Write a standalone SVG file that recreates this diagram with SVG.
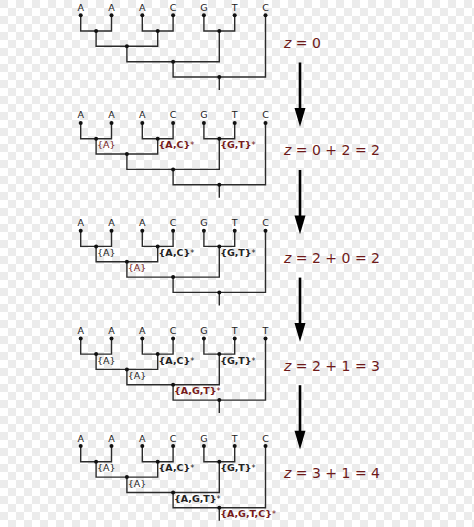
<svg xmlns="http://www.w3.org/2000/svg" xmlns:xlink="http://www.w3.org/1999/xlink" width="474" height="527" viewBox="0 0 474 527">
<defs>
<style>
.edge{fill:none;stroke:#2b2b2b;stroke-width:1.4;stroke-linejoin:miter}
.dot{fill:#111}
.leaf{font-family:"DejaVu Sans","Liberation Sans",sans-serif;font-size:9.5px;fill:#222;text-anchor:middle}
.lab{font-family:"DejaVu Sans","Liberation Sans",sans-serif;font-size:9.5px;fill:#222}
.b{font-weight:bold}
.new{fill:#761a1a}
.star{font-weight:normal;font-size:8px}
.z{font-family:"DejaVu Sans","Liberation Sans",sans-serif;font-size:14px;fill:#6e1a1a}
.arrow{fill:none;stroke:#000;stroke-width:2.6}
</style>
<pattern id="checker" width="16" height="16" patternUnits="userSpaceOnUse">
<rect width="16" height="16" fill="#ffffff"/>
<rect width="8" height="8" fill="#ececec"/>
<rect x="8" y="8" width="8" height="8" fill="#ececec"/>
</pattern>
<marker id="head" markerUnits="userSpaceOnUse" markerWidth="12" markerHeight="20" refX="6" refY="0" orient="auto-start-reverse" viewBox="0 -1 12 21">
<polygon points="0,0 12,0 6,19" fill="#000" transform="rotate(0)"/>
</marker>
<g id="edges">
<path class="edge" d="M80.7 15.3V31H111.5V15.3"/>
<path class="edge" d="M142.3 15.3V31H173.1V15.3"/>
<path class="edge" d="M203.9 15.3V31H234.7V15.3"/>
<path class="edge" d="M96.1 31V46.3H157.7V31"/>
<path class="edge" d="M126.9 46.3V61.7H219.3V31"/>
<path class="edge" d="M173.1 61.7V77H265.5V15.3"/>
<path class="edge" d="M219.3 77V90"/>
</g>
</defs>
<rect width="474" height="527" fill="url(#checker)"/>

<g id="connectors">
<use xlink:href="#edges" href="#edges"/>
<use xlink:href="#edges" href="#edges" y="107.7"/>
<use xlink:href="#edges" href="#edges" y="215.4"/>
<use xlink:href="#edges" href="#edges" y="323.1"/>
<use xlink:href="#edges" href="#edges" y="430.8"/>
<path class="arrow" d="M300 62.5V109"/><polygon points="294.5,108 305.5,108 300,126.8" fill="#000"/>
<path class="arrow" d="M300 170V216.5"/><polygon points="294.5,215.5 305.5,215.5 300,234.2" fill="#000"/>
<path class="arrow" d="M300 277.6V324.1"/><polygon points="294.5,323.1 305.5,323.1 300,341.8" fill="#000"/>
<path class="arrow" d="M300 385.2V431.7"/><polygon points="294.5,430.7 305.5,430.7 300,449.4" fill="#000"/>
</g>

<!-- Panel 1 -->
<g id="panel1">
<g id="p1-leaf1"><circle class="dot" cx="80.7" cy="15.3" r="2"/><text class="leaf" x="80.7" y="10.8">A</text></g>
<g id="p1-leaf2"><circle class="dot" cx="111.5" cy="15.3" r="2"/><text class="leaf" x="111.5" y="10.8">A</text></g>
<g id="p1-leaf3"><circle class="dot" cx="142.3" cy="15.3" r="2"/><text class="leaf" x="142.3" y="10.8">A</text></g>
<g id="p1-leaf4"><circle class="dot" cx="173.1" cy="15.3" r="2"/><text class="leaf" x="173.1" y="10.8">C</text></g>
<g id="p1-leaf5"><circle class="dot" cx="203.9" cy="15.3" r="2"/><text class="leaf" x="203.9" y="10.8">G</text></g>
<g id="p1-leaf6"><circle class="dot" cx="234.7" cy="15.3" r="2"/><text class="leaf" x="234.7" y="10.8">T</text></g>
<g id="p1-leaf7"><circle class="dot" cx="265.5" cy="15.3" r="2"/><text class="leaf" x="265.5" y="10.8">C</text></g>
<g id="p1-n1"><circle class="dot" cx="96.1" cy="31" r="2"/></g>
<g id="p1-n2"><circle class="dot" cx="157.7" cy="31" r="2"/></g>
<g id="p1-n3"><circle class="dot" cx="219.3" cy="31" r="2"/></g>
<g id="p1-n4"><circle class="dot" cx="126.9" cy="46.3" r="2"/></g>
<g id="p1-n5"><circle class="dot" cx="173.1" cy="61.7" r="2"/></g>
<g id="p1-root"><circle class="dot" cx="219.3" cy="77" r="2"/></g>
<g id="p1-z"><text class="z" x="284" y="47.5"><tspan font-style="italic">z</tspan> = 0</text></g>
</g>

<!-- Panel 2 -->
<g id="panel2" transform="translate(0,107.7)">
<g id="p2-leaf1"><circle class="dot" cx="80.7" cy="15.3" r="2"/><text class="leaf" x="80.7" y="10.8">A</text></g>
<g id="p2-leaf2"><circle class="dot" cx="111.5" cy="15.3" r="2"/><text class="leaf" x="111.5" y="10.8">A</text></g>
<g id="p2-leaf3"><circle class="dot" cx="142.3" cy="15.3" r="2"/><text class="leaf" x="142.3" y="10.8">A</text></g>
<g id="p2-leaf4"><circle class="dot" cx="173.1" cy="15.3" r="2"/><text class="leaf" x="173.1" y="10.8">C</text></g>
<g id="p2-leaf5"><circle class="dot" cx="203.9" cy="15.3" r="2"/><text class="leaf" x="203.9" y="10.8">G</text></g>
<g id="p2-leaf6"><circle class="dot" cx="234.7" cy="15.3" r="2"/><text class="leaf" x="234.7" y="10.8">T</text></g>
<g id="p2-leaf7"><circle class="dot" cx="265.5" cy="15.3" r="2"/><text class="leaf" x="265.5" y="10.8">C</text></g>
<g id="p2-n1"><circle class="dot" cx="96.1" cy="31" r="2"/><text class="lab new" x="97" y="40.5">{A}</text></g>
<g id="p2-n2"><circle class="dot" cx="157.7" cy="31" r="2"/><text class="lab b new" x="158.6" y="40.5">{A,C}<tspan class="star">*</tspan></text></g>
<g id="p2-n3"><circle class="dot" cx="219.3" cy="31" r="2"/><text class="lab b new" x="220.2" y="40.5">{G,T}<tspan class="star">*</tspan></text></g>
<g id="p2-n4"><circle class="dot" cx="126.9" cy="46.3" r="2"/></g>
<g id="p2-n5"><circle class="dot" cx="173.1" cy="61.7" r="2"/></g>
<g id="p2-root"><circle class="dot" cx="219.3" cy="77" r="2"/></g>
<g id="p2-z"><text class="z" x="284" y="47.5"><tspan font-style="italic">z</tspan> = 0 + 2 = 2</text></g>
</g>

<!-- Panel 3 -->
<g id="panel3" transform="translate(0,215.4)">
<g id="p3-leaf1"><circle class="dot" cx="80.7" cy="15.3" r="2"/><text class="leaf" x="80.7" y="10.8">A</text></g>
<g id="p3-leaf2"><circle class="dot" cx="111.5" cy="15.3" r="2"/><text class="leaf" x="111.5" y="10.8">A</text></g>
<g id="p3-leaf3"><circle class="dot" cx="142.3" cy="15.3" r="2"/><text class="leaf" x="142.3" y="10.8">A</text></g>
<g id="p3-leaf4"><circle class="dot" cx="173.1" cy="15.3" r="2"/><text class="leaf" x="173.1" y="10.8">C</text></g>
<g id="p3-leaf5"><circle class="dot" cx="203.9" cy="15.3" r="2"/><text class="leaf" x="203.9" y="10.8">G</text></g>
<g id="p3-leaf6"><circle class="dot" cx="234.7" cy="15.3" r="2"/><text class="leaf" x="234.7" y="10.8">T</text></g>
<g id="p3-leaf7"><circle class="dot" cx="265.5" cy="15.3" r="2"/><text class="leaf" x="265.5" y="10.8">C</text></g>
<g id="p3-n1"><circle class="dot" cx="96.1" cy="31" r="2"/><text class="lab" x="97" y="40.5">{A}</text></g>
<g id="p3-n2"><circle class="dot" cx="157.7" cy="31" r="2"/><text class="lab b" x="158.6" y="40.5">{A,C}<tspan class="star">*</tspan></text></g>
<g id="p3-n3"><circle class="dot" cx="219.3" cy="31" r="2"/><text class="lab b" x="220.2" y="40.5">{G,T}<tspan class="star">*</tspan></text></g>
<g id="p3-n4"><circle class="dot" cx="126.9" cy="46.3" r="2"/><text class="lab new" x="127.8" y="55.8">{A}</text></g>
<g id="p3-n5"><circle class="dot" cx="173.1" cy="61.7" r="2"/></g>
<g id="p3-root"><circle class="dot" cx="219.3" cy="77" r="2"/></g>
<g id="p3-z"><text class="z" x="284" y="47.5"><tspan font-style="italic">z</tspan> = 2 + 0 = 2</text></g>
</g>

<!-- Panel 4 -->
<g id="panel4" transform="translate(0,323.1)">
<g id="p4-leaf1"><circle class="dot" cx="80.7" cy="15.3" r="2"/><text class="leaf" x="80.7" y="10.8">A</text></g>
<g id="p4-leaf2"><circle class="dot" cx="111.5" cy="15.3" r="2"/><text class="leaf" x="111.5" y="10.8">A</text></g>
<g id="p4-leaf3"><circle class="dot" cx="142.3" cy="15.3" r="2"/><text class="leaf" x="142.3" y="10.8">A</text></g>
<g id="p4-leaf4"><circle class="dot" cx="173.1" cy="15.3" r="2"/><text class="leaf" x="173.1" y="10.8">C</text></g>
<g id="p4-leaf5"><circle class="dot" cx="203.9" cy="15.3" r="2"/><text class="leaf" x="203.9" y="10.8">G</text></g>
<g id="p4-leaf6"><circle class="dot" cx="234.7" cy="15.3" r="2"/><text class="leaf" x="234.7" y="10.8">T</text></g>
<g id="p4-leaf7"><circle class="dot" cx="265.5" cy="15.3" r="2"/><text class="leaf" x="265.5" y="10.8">T</text></g>
<g id="p4-n1"><circle class="dot" cx="96.1" cy="31" r="2"/><text class="lab" x="97" y="40.5">{A}</text></g>
<g id="p4-n2"><circle class="dot" cx="157.7" cy="31" r="2"/><text class="lab b" x="158.6" y="40.5">{A,C}<tspan class="star">*</tspan></text></g>
<g id="p4-n3"><circle class="dot" cx="219.3" cy="31" r="2"/><text class="lab b" x="220.2" y="40.5">{G,T}<tspan class="star">*</tspan></text></g>
<g id="p4-n4"><circle class="dot" cx="126.9" cy="46.3" r="2"/><text class="lab" x="127.8" y="55.8">{A}</text></g>
<g id="p4-n5"><circle class="dot" cx="173.1" cy="61.7" r="2"/><text class="lab b new" x="174" y="71.2">{A,G,T}<tspan class="star">*</tspan></text></g>
<g id="p4-root"><circle class="dot" cx="219.3" cy="77" r="2"/></g>
<g id="p4-z"><text class="z" x="284" y="47.5"><tspan font-style="italic">z</tspan> = 2 + 1 = 3</text></g>
</g>

<!-- Panel 5 -->
<g id="panel5" transform="translate(0,430.8)">
<g id="p5-leaf1"><circle class="dot" cx="80.7" cy="15.3" r="2"/><text class="leaf" x="80.7" y="10.8">A</text></g>
<g id="p5-leaf2"><circle class="dot" cx="111.5" cy="15.3" r="2"/><text class="leaf" x="111.5" y="10.8">A</text></g>
<g id="p5-leaf3"><circle class="dot" cx="142.3" cy="15.3" r="2"/><text class="leaf" x="142.3" y="10.8">A</text></g>
<g id="p5-leaf4"><circle class="dot" cx="173.1" cy="15.3" r="2"/><text class="leaf" x="173.1" y="10.8">C</text></g>
<g id="p5-leaf5"><circle class="dot" cx="203.9" cy="15.3" r="2"/><text class="leaf" x="203.9" y="10.8">G</text></g>
<g id="p5-leaf6"><circle class="dot" cx="234.7" cy="15.3" r="2"/><text class="leaf" x="234.7" y="10.8">T</text></g>
<g id="p5-leaf7"><circle class="dot" cx="265.5" cy="15.3" r="2"/><text class="leaf" x="265.5" y="10.8">C</text></g>
<g id="p5-n1"><circle class="dot" cx="96.1" cy="31" r="2"/><text class="lab" x="97" y="40.5">{A}</text></g>
<g id="p5-n2"><circle class="dot" cx="157.7" cy="31" r="2"/><text class="lab b" x="158.6" y="40.5">{A,C}<tspan class="star">*</tspan></text></g>
<g id="p5-n3"><circle class="dot" cx="219.3" cy="31" r="2"/><text class="lab b" x="220.2" y="40.5">{G,T}<tspan class="star">*</tspan></text></g>
<g id="p5-n4"><circle class="dot" cx="126.9" cy="46.3" r="2"/><text class="lab" x="127.8" y="55.8">{A}</text></g>
<g id="p5-n5"><circle class="dot" cx="173.1" cy="61.7" r="2"/><text class="lab b" x="174" y="71.2">{A,G,T}<tspan class="star">*</tspan></text></g>
<g id="p5-root"><circle class="dot" cx="219.3" cy="77" r="2"/><text class="lab b new" x="220.2" y="86.5">{A,G,T,C}<tspan class="star">*</tspan></text></g>
<g id="p5-z"><text class="z" x="284" y="47.5"><tspan font-style="italic">z</tspan> = 3 + 1 = 4</text></g>
</g>
</svg>
